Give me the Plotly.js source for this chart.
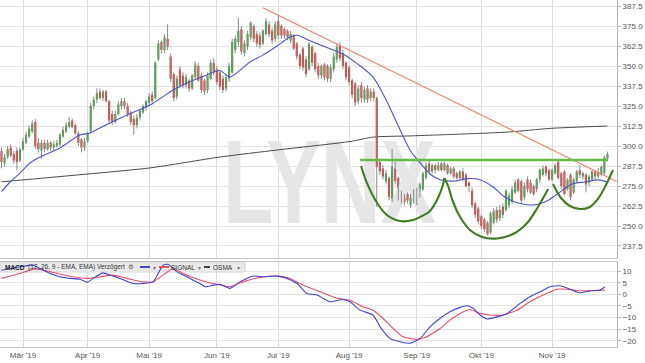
<!DOCTYPE html>
<html><head><meta charset="utf-8">
<script src="https://cdn.plot.ly/plotly-3.0.1.min.js"></script>
<style>html,body{margin:0;padding:0;background:#fff}#chart{width:645px;height:363px}</style>
</head><body><div id="chart"></div>
<script>
// ---- calendar ----
const startDate = '2019-02-20';
const holidays = ['2019-04-19', '2019-04-22', '2019-05-01'];
const labelMonths = ['2019-03','2019-04','2019-05','2019-06','2019-07','2019-08','2019-09','2019-10','2019-11'];
const monthLabels = ["Mär '19","Apr '19","Mai '19","Jun '19","Jul '19","Aug '19","Sep '19","Okt '19","Nov '19"];

// ---- daily candles (trading-day order) ----
const open = [297,289,293,299,295,297,291,298,302,306, 309,315,302,297,302,298,302,299,300,301,
  306,309,312,316,313,308,304,299,303,309, 325,329,334,330,334,328,320,315,320,325,
  328,325,321,317,313,318,321,324,327,332, 330,354,365,360,367,356,345,331,348,344,
  338,341,336,343,350,344,341,335,342,352, 348,346,342,336,342,346,360,365,373,358,
  362,368,375,370,369,364,370,376,372,367, 378,375,373,372,366,369,364,357,361,354,
  348,362,358,350,344,351,350,342,348,354, 363,358,352,349,341,339,328,338,329,336,
  330,334,330,290,286,278,280,267,286,280, 271,268,270,263,266,265,270,273,280,289,
  284,288,285,289,285,288,283,286,283,280, 284,282,277,272,264,261,256,254,252,246,
  252,260,255,262,260,263,265,271,279,278, 268,279,277,275,273,279,282,287,285,279,
  283,290,283,284,273,282,271,278,285,281, 282,277,279,284,281,282,283,292];
const high = [299,295,300,301,297,299,299,305,309,313, 316,317,305,304,304,304,303,303,304,308,
  312,315,318,317,314,309,305,305,309,327, 331,336,336,335,335,329,322,322,328,330,
  330,327,322,319,320,323,326,329,333,334, 353,366,366,370,376,358,346,344,350,346,
  345,342,345,353,352,346,342,346,354,355, 350,347,344,345,352,367,369,380,375,366,
  372,378,376,372,371,373,380,378,374,378, 382,376,374,373,372,370,365,358,362,356,
  365,363,359,352,351,352,351,351,358,364, 365,360,353,350,342,340,338,340,337,338,
  336,336,331,292,288,285,281,298,290,281, 272,270,271,270,273,274,277,284,290,291,
  289,289,290,290,290,289,287,287,284,285, 286,283,278,274,265,262,257,255,253,259,
  261,262,263,264,273,271,275,279,280,279, 277,281,279,276,280,286,288,288,286,286,
  289,291.5,284,285,280,283,280,285,288,284, 283,282,285,285,286,288,294,296.5];
const low = [286,287,292,293,289,285,290,297,301,305, 308,298,296,292,296,297,297,297,299,300,
  305,308,311,311,307,300,296,297,302,308, 323,327,329,328,327,314,313,314,319,323,
  323,318,313,307,311,316,320,322,325,327, 329,353,358,358,360,340,328,329,336,336,
  336,334,335,342,340,333,332,333,341,344, 338,335,333,334,340,345,358,362,357,356,
  360,366,365,362,361,363,369,368,364,365, 367,367,367,366,364,360,354,348,347,343,
  347,350,346,342,342,341,340,340,346,352, 353,348,341,338,330,325,326,327,327,327,
  328,328,262,282,279,276,266,265,276,266, 264,263,264,261,264,263,268,272,279,283,
  283,283,284,284,284,282,282,280,279,279, 278,274,271,261,255,251,248,246,244,245,
  251,252,253,255,259,261,264,270,271,264, 266,271,270,269,271,277,281,281,278,278,
  282,279,273,269,272,266,270,277,280,279, 271,275,278,279,280,281,282,291];
const close = [290,293,298,294,291,290,298,303,307,311, 314,300,298,302,298,302,299,301,302,307,
  310,313,315,312,308,302,299,303,308,325, 329,333,330,334,328,316,315,320,326,328,
  325,320,315,313,318,322,325,328,331,328, 352,364,360,368,362,342,330,342,338,338,
  343,336,344,351,341,335,334,344,352,346, 340,337,335,343,350,365,367,372,359,364,
  370,377,367,364,363,372,378,370,366,376, 369,369,369,368,370,361,356,350,349,345,
  364,352,348,344,350,343,342,349,356,362, 355,350,343,340,332,327,336,330,335,329,
  334,330,287,284,281,283,268,287,278,268, 266,265,266,268,271,272,276,283,288,284,
  288,285,288,285,289,283,286,281,280,284, 279,275,275,263,257,253,250,248,245,258,
  259,254,260,257,272,269,273,277,272,266, 275,273,271,270,279,285,286,283,279,285,
  288,280,275,270,279,268,279,284,282,283, 276,281,284,281,284,287,293,295];

// ---- overlays (x = trading-day index, y = price) ----
const ma20Idx = [0,2.8,6.0,9.3,12.5,19.0,25.5,28.8,32.0,40.8,48.3,55.8,60.3,66.8,71.0,74.3,80.8,84.7,89.6,93.8,96.1,100.3,105.8,111.0,115.6,120.8,125.3,129.6,132.8,136.1,139.3,142.6,147.4,151.4,155.6,159.5,163.7,168.0,172.5,176.7,180.9,185.5,189.7,193.9,197.0];
const ma20Val = [271.5,277.5,283.1,289.4,293.1,298.8,306.9,308.1,311.3,319.4,325.6,335.0,339.4,344.4,347.2,343.2,352.5,356.5,362.5,368.1,369.2,365.8,361.6,357.5,351.5,343.1,327.8,310.0,297.5,289.4,282.5,278.9,278.1,279.6,278.9,274.8,268.1,264.4,263.1,265.0,270.3,276.3,277.5,278.8,277.5];
const ma200Idx = [0,28.1,48.3,71.0,89.6,113.3,121.0,132.8,155.6,165.4,178.3,197.0];
const ma200Val = [277.6,282.5,286.3,293.1,297.5,302.8,305.6,306.3,307.9,308.8,311.0,312.5];
const trendIdx = [85, 200];
const trendVal = [386.4, 277.8];
const resistIdx = [116.6, 197.2];
const resistVal = [291.25, 291.25];
const cup1Idx = [116.9,118.8,122.1,125.3,129.6,133.8,136.7,139.3,141.9,143.5,144.0];
const cup1Val = [287.5,276.9,264.4,256.9,253.1,253.75,256.25,259.4,267.5,275.6,280.0];
const cup2Idx = [144.0,145.2,146.8,149.1,152.3,156.2,161.1,166.3,170.9,174.4,177.7];
const cup2Val = [280.0,275.0,265.0,255.6,247.5,243.1,242.2,245.0,251.9,261.9,273.1];
const cup3Idx = [179.3,181.9,184.8,188.1,191.3,193.9,196.5,198.8];
const cup3Val = [276.25,267.5,262.5,260.6,261.9,266.9,275.6,285.0];

// ---- MACD panel ----
const macdIdx = [0,2.8,6.0,10.3,12.5,15.8,19.0,22.3,25.5,27.8,29.8,33.0,35.3,38.5,42.8,46.0,49.3,52.5,54.1,57.1,61.3,64.5,66.2,68.8,71.0,74.3,77.5,79.8,81.8,85.0,89.6,92.8,96.1,99.3,102.6,106.8,111.0,113.3,116.6,120.8,123.1,126.3,129.6,132.8,136.1,139.3,142.6,145.8,149.1,151.4,153.3,155.6,157.9,161.1,164.4,168.6,171.8,175.1,178.3,181.6,184.9,188.1,191.4,194.6,196.2];
const macdVal = [10.4,11.2,11.9,12.6,11.2,9.0,7.6,6.9,6.5,5.2,6.9,9.3,8.3,6.9,4.7,4.7,5.4,12.6,13.0,9.7,6.9,4.7,3.3,4.0,4.3,2.6,5.4,6.9,7.9,7.6,7.9,6.9,4.7,0.4,-0.3,-3.2,-2.2,-3.2,-6.8,-8.9,-14.0,-19.0,-20.4,-21.1,-19.0,-14.0,-10.3,-7.5,-5.6,-4.9,-6.0,-8.9,-10.6,-9.7,-8.2,-3.9,-1.0,1.1,3.3,3.7,2.2,0.7,1.6,1.9,3.3];
const sigIdx = [0,6.0,10.3,13.5,18.1,23.3,27.8,32.0,36.3,40.8,46.0,49.3,52.5,55.8,59.0,64.5,68.8,74.3,78.5,84.1,89.6,93.8,98.0,103.6,109.1,113.3,117.5,120.8,124.0,127.3,130.5,135.1,137.7,139.3,142.6,145.8,149.1,152.3,155.6,158.8,163.1,167.6,171.8,176.1,180.6,183.9,188.1,192.3,196.2];
const sigVal = [6.9,9.0,10.9,10.5,9.0,7.6,6.9,7.6,8.3,6.9,5.4,5.4,8.3,11.2,9.0,6.2,4.7,3.3,5.4,7.3,7.9,6.9,4.0,1.1,-1.7,-2.5,-5.3,-6.8,-10.3,-14.7,-18.3,-19.4,-18.6,-17.5,-14.7,-11.1,-8.2,-6.5,-8.2,-8.9,-8.9,-6.8,-3.2,-0.3,2.2,2.2,1.6,1.6,1.9];

// ---- build ----
function tradingDays(start, n, hol) {
  const out = []; const d = new Date(start + 'T00:00:00Z');
  while (out.length < n) {
    const wd = d.getUTCDay(); const s = d.toISOString().slice(0, 10);
    if (wd !== 0 && wd !== 6 && !hol.includes(s)) out.push(s);
    d.setUTCDate(d.getUTCDate() + 1);
  }
  return out;
}
const dates = tradingDays(startDate, open.length, holidays);
const idx = dates.map((_, i) => i);
const tickvals = labelMonths.map(m => dates.findIndex(d => d.startsWith(m)));

const wx = [], wy = [];
for (let i = 0; i < idx.length; i++) { wx.push(i, i, null); wy.push(low[i], high[i], null); }

const FONT = 'Liberation Sans, Arial, sans-serif';
const base = {hoverinfo: 'skip', showlegend: false};
const cupStyle = {color: '#3e7c22', width: 2.1, shape: 'spline', smoothing: 1};

const traces = [
  Object.assign({type: 'scatter', mode: 'text', x: [106.6], y: [270.3], text: ['LYNX'], textposition: 'middle center',
    textfont: {family: FONT, size: 118, color: '#e6e6e6', weight: 'bold'}, cliponaxis: false}, base),
  Object.assign({type: 'scatter', mode: 'lines', x: ma200Idx, y: ma200Val, line: {color: '#4a4a4a', width: 1, shape: 'spline', smoothing: 0.6}}, base),
  Object.assign({type: 'scatter', mode: 'lines', x: wx, y: wy, line: {color: '#8a8a8a', width: 1}}, base),
  Object.assign({type: 'candlestick', x: idx, open: open, high: high, low: low, close: close, whiskerwidth: 0,
    increasing: {line: {color: '#3aa83a', width: 0}, fillcolor: '#3aa83a'},
    decreasing: {line: {color: '#e2352f', width: 0}, fillcolor: '#e2352f'}}, base),
  Object.assign({type: 'scatter', mode: 'lines', x: ma20Idx, y: ma20Val, line: {color: '#4b55c9', width: 1.1, shape: 'spline', smoothing: 0.8}}, base),
  Object.assign({type: 'scatter', mode: 'lines', x: trendIdx, y: trendVal, line: {color: '#f2806c', width: 1.2}}, base),
  Object.assign({type: 'scatter', mode: 'lines', x: resistIdx, y: resistVal, line: {color: '#68b84c', width: 2.4}}, base),
  Object.assign({type: 'scatter', mode: 'lines', x: cup1Idx, y: cup1Val, line: cupStyle}, base),
  Object.assign({type: 'scatter', mode: 'lines', x: cup2Idx, y: cup2Val, line: cupStyle}, base),
  Object.assign({type: 'scatter', mode: 'lines', x: cup3Idx, y: cup3Val, line: cupStyle}, base),
  Object.assign({type: 'scatter', mode: 'lines', x: sigIdx, y: sigVal, xaxis: 'x2', yaxis: 'y2', line: {color: '#ec4a63', width: 1.1, shape: 'spline', smoothing: 0.5}}, base),
  Object.assign({type: 'scatter', mode: 'lines', x: macdIdx, y: macdVal, xaxis: 'x2', yaxis: 'y2', line: {color: '#4141d8', width: 1.1, shape: 'spline', smoothing: 0.5}}, base)
];

const PW = 617, PH = 347;
const px = v => v / PW, py = v => (PH - v) / PH;
const legY = py(267);
const ann = (t, x, opts) => Object.assign({text: t, x: px(x), y: legY, xref: 'paper', yref: 'paper', xanchor: 'left', yanchor: 'middle',
  showarrow: false, font: {family: FONT, size: 6.5, color: '#333'}, borderpad: 0}, opts || {});
const legLine = (x0, x1, c) => ({type: 'line', xref: 'paper', yref: 'paper', x0: px(x0), x1: px(x1), y0: legY, y1: legY, line: {color: c, width: 2}, layer: 'above'});

const layout = {
  width: 645, height: 363, margin: {l: 0, r: 28, t: 0, b: 16},
  paper_bgcolor: '#ffffff', plot_bgcolor: '#ffffff', showlegend: false,
  boxgap: 0.3, boxgroupgap: 0, dragmode: false,
  font: {family: FONT, size: 8, color: '#555'},
  xaxis: {domain: [0, 1], anchor: 'y', range: [-0.48, 200.1], tickmode: 'array', tickvals: tickvals, showticklabels: false, ticks: '',
    showgrid: true, gridcolor: '#dcdcdc', zeroline: false, showline: true, linecolor: '#c4c4c4', rangeslider: {visible: false}},
  yaxis: {domain: [0.2565, 1], anchor: 'x', side: 'right', range: [230, 391.25], tick0: 237.5, dtick: 12.5, tickformat: '.1f',
    showgrid: true, gridcolor: '#e3e3e3', zeroline: false, showline: true, linecolor: '#b5b5b5', ticks: 'outside', ticklen: 3, tickcolor: '#b5b5b5',
    tickfont: {family: FONT, size: 8, color: '#555'}},
  xaxis2: {domain: [0, 1], anchor: 'y2', matches: 'x', tickmode: 'array', tickvals: tickvals, ticktext: monthLabels, ticks: '',
    showgrid: true, gridcolor: '#dcdcdc', zeroline: false, showline: true, mirror: true, linecolor: '#c4c4c4',
    tickfont: {family: FONT, size: 8, color: '#555'}, rangeslider: {visible: false}},
  yaxis2: {domain: [0, 0.2458], anchor: 'x2', side: 'right', range: [-22.7, 14.1], tick0: 0, dtick: 5,
    showgrid: true, gridcolor: '#e3e3e3', zeroline: false, showline: true, linecolor: '#b5b5b5', ticks: 'outside', ticklen: 3, tickcolor: '#b5b5b5',
    tickfont: {family: FONT, size: 8, color: '#555'}},
  shapes: [
    {type: 'rect', xref: 'paper', yref: 'paper', x0: 0, x1: px(245), y0: py(272), y1: py(262), fillcolor: 'rgba(232,232,232,0.9)', line: {color: '#d2d2d2', width: 1}, layer: 'between'},
    legLine(140, 150, '#4141d8'), legLine(159, 169, '#ec4a63'), legLine(204, 210, '#444')
  ],
  annotations: [
    ann('MACD', 4, {font: {family: FONT, size: 6.5, color: '#222', weight: 'bold'}}),
    ann('(12, 26, 9 - EMA, EMA) Verzögert', 27),
    ann('⚙', 127, {font: {family: 'DejaVu Sans', size: 6.5, color: '#555'}}),
    ann('▾', 152, {font: {family: 'DejaVu Sans', size: 6, color: '#777'}}),
    ann('SIGNAL', 170),
    ann('▾', 197, {font: {family: 'DejaVu Sans', size: 6, color: '#777'}}),
    ann('OSMA', 212),
    ann('▾', 236, {font: {family: 'DejaVu Sans', size: 6, color: '#777'}})
  ]
};

Plotly.newPlot('chart', traces, layout, {staticPlot: true, displayModeBar: false}).then(() => {
  const t = document.querySelector('#chart .scatterlayer .textpoint text');
  if (t) {
    const cx = parseFloat(t.getAttribute('x')) || 0;
    const prev = t.getAttribute('transform') || '';
    t.setAttribute('transform', prev + ' translate(' + cx + ' 0) scale(0.7 1) translate(' + (-cx) + ' 0)');
  }
});
</script>
</body></html>
